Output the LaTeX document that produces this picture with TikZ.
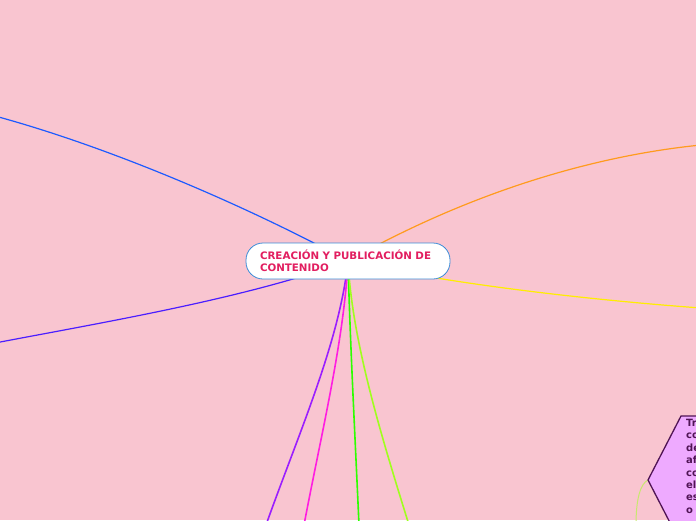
\documentclass[tikz,border=0pt]{standalone}
\usepackage{fontspec}
\setmainfont{DejaVu Sans}
\usetikzlibrary{positioning}

\definecolor{bgpink}{RGB}{249,197,208}
\definecolor{nodeblue}{RGB}{60,140,215}
\definecolor{titlered}{RGB}{226,30,96}
\definecolor{lblue}{RGB}{30,90,255}
\definecolor{lviolet}{RGB}{75,30,255}
\definecolor{lorange}{RGB}{255,155,30}
\definecolor{lyellow}{RGB}{255,238,0}
\definecolor{lpurple}{RGB}{155,30,255}
\definecolor{lmagenta}{RGB}{255,30,225}
\definecolor{lgreen}{RGB}{45,255,0}
\definecolor{llime}{RGB}{160,255,30}
\definecolor{lpale}{RGB}{200,232,110}
\definecolor{hexfill}{RGB}{238,170,255}
\definecolor{hexline}{RGB}{80,20,85}

\begin{document}
\begin{tikzpicture}[x = 1pt, y = -1pt, every node/.style = {font = \bfseries},
	topic/.style = {draw = nodeblue, fill = white, rounded corners = 17pt, line width = 0.8pt,
	text width = 176pt, inner xsep = 14pt, minimum height = 36pt, align = left,
	text = titlered, font = \bfseries\fontsize{10.3}{12}\selectfont},
	branch/.style = {line width = 1.2pt}]

	\useasboundingbox (0,0) rectangle (696,520);
	\clip (0,0) rectangle (696,520);
	\fill[bgpink] (0,0) rectangle (696,520);

		\coordinate (CPC) at (348, 261);
		\coordinate (L1)  at ( -5, 116);
		\coordinate (L2)  at ( -5, 343);
		\coordinate (R1)  at (701, 145);
		\coordinate (R2)  at (701, 308);
		\coordinate (B1)  at (266, 525);
		\coordinate (B2)  at (304, 525);
		\coordinate (B3)  at (359, 525);
		\coordinate (B4)  at (409, 525);
		\coordinate (HX)  at (648, 480);
		\coordinate (HB)  at (636, 525);

	    \foreach \col/\a/\b/\to in {lblue/{260,213}/{120,150}/L1, lviolet/{248,298}/{105,322}/L2,
	    	lorange/{458,199}/{581,157}/R1, lyellow/{448,284}/{591,300}/R2}
	    	\draw [branch, \col] (CPC) .. controls (\a) and (\b) .. (\to);

	    \foreach \col/\a/\b/\to in {lpurple/{340,341}/{298,435}/B1, lmagenta/{344,341}/{321,435}/B2,
	    	lgreen/{350,341}/{355,435}/B3, llime/{352,341}/{381,435}/B4}
	    	\draw [branch, line width = 1.6pt, \col] (CPC) .. controls (\a) and (\b) .. (\to);

		\draw [branch, line width = 1pt, lpale] (HX) .. controls (640,484) and (636,500) .. (HB);

		\node (CPCtxt) at (CPC) [topic] {CREACIÓN Y PUBLICACIÓN DE CONTENIDO};

		\draw [fill = hexfill, draw = hexline, line width = 1.3pt]
			(HX) -- (681,416) -- (760,416) -- (793,480) -- (760,544) -- (681,544) -- cycle;
		\node (HXtxt) at (686,419) [anchor = north west, align = left, inner sep = 0pt,
			text = hexline, font = \bfseries\fontsize{10}{12.4}\selectfont]
			{Tr\\co\\de\\af\\co\\el\\es\\o};

	\end{tikzpicture}
\end{document}
